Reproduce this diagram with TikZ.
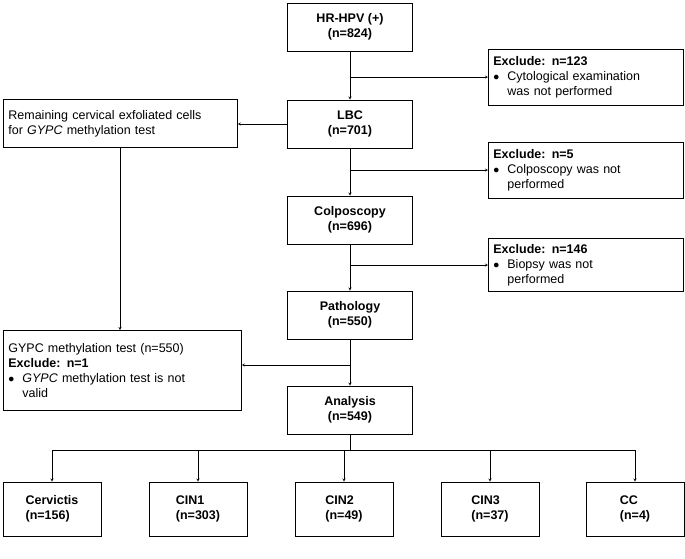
\documentclass[tikz,border=0pt]{standalone}
\usepackage{fontspec}
\setmainfont{Liberation Sans}
\begin{document}
\begin{tikzpicture}[x=1pt,y=-1pt,>=stealth,
  box/.style={draw, thick, minimum width=125pt, minimum height=48pt, align=center, font=\fontsize{12.5}{15}\selectfont\bfseries},
  side/.style={draw, thick, text width=#1, minimum height=56pt, align=left, anchor=north west, font=\fontsize{12.5}{15}\selectfont, inner sep=5pt},
  side/.default=185pt,
  leaf/.style={draw, thick, minimum width=98pt, minimum height=54pt, align=left, font=\fontsize{12.5}{15}\selectfont\bfseries}]
  \useasboundingbox (0,0) rectangle (685,558);
  % main column
  \node[box] (hpv) at (350,27) {HR-HPV (+)\\(n=824)};
  \node[box] (lbc) at (350,124) {LBC\\(n=701)};
  \node[box] (colpo) at (350,220) {Colposcopy\\(n=696)};
  \node[box] (path) at (350,315) {Pathology\\(n=550)};
  \node[box] (ana) at (350,410) {Analysis\\(n=549)};
  % exclusions
  \node[side] (ex1) at (488,49) {\textbf{Exclude: n=123}\\$\bullet$\hspace{8pt}Cytological examination\\\hspace{14pt}was not performed};
  \node[side] (ex2) at (488,142) {\textbf{Exclude: n=5}\\$\bullet$\hspace{8pt}Colposcopy was not\\\hspace{14pt}performed};
  \node[side, minimum height=53pt] (ex3) at (488,238) {\textbf{Exclude: n=146}\\$\bullet$\hspace{8pt}Biopsy was not\\\hspace{14pt}performed};
  % methylation branch
  \node[side=224pt, minimum height=48pt] (rem) at (3,99) {Remaining cervical exfoliated cells\\for \textit{GYPC} methylation test};
  \node[side=228pt, minimum height=80pt] (gypc) at (3,330) {GYPC methylation test (n=550)\\\textbf{Exclude: n=1}\\$\bullet$\hspace{8pt}\textit{GYPC} methylation test is not\\\hspace{14pt}valid};
  % outcomes
  \node[leaf] (cer) at (52,509) {Cervictis\\(n=156)};
  \node[leaf] (cin1) at (198,509) {CIN1\\(n=303)};
  \node[leaf] (cin2) at (344,509) {CIN2\\(n=49)};
  \node[leaf] (cin3) at (490,509) {CIN3\\(n=37)};
  \node[leaf] (cc) at (635,509) {CC\\(n=4)};
  % connectors
  \draw[->] (hpv) -- (lbc);
  \draw[->] (lbc) -- (colpo);
  \draw[->] (colpo) -- (path);
  \draw[->] (path) -- (ana);
  \draw[->] (350,77) -- (ex1.west |- 0,77);
  \draw[->] (350,170) -- (ex2.west |- 0,170);
  \draw[->] (350,265) -- (ex3.west |- 0,265);
  \draw[->] (lbc.west) -- (rem.east |- lbc.west);
  \draw[->] (rem.south -| 120,0) -- (gypc.north -| 120,0);
  \draw[->] (350,365) -- (gypc.east |- 0,365);
  \coordinate (split) at (350,450);
  \draw (ana.south) -- (split);
  \draw (cer.north |- split) -- (cc.north |- split);
  \foreach \n in {cer,cin1,cin2,cin3,cc}
    \draw[->] (\n.north |- split) -- (\n.north);
\end{tikzpicture}
\end{document}
